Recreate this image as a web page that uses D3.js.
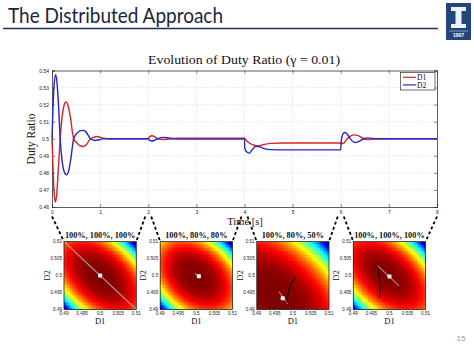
<!DOCTYPE html>
<html>
<head>
<meta charset="utf-8">
<script src="https://cdn.jsdelivr.net/npm/d3@7"></script>
<style>
html,body{margin:0;padding:0;background:#fff;}
svg{display:block;}
</style>
</head>
<body>
<svg id="c" width="474" height="355"></svg>
<script>
// ---------------- DATA ----------------
const slideTitle = "The Distributed Approach";
const chartTitle = "Evolution of Duty Ratio (\u03B3 = 0.01)";
const xTicks = [0,1,2,3,4,5,6,7,8];
const yTicks = [0.46,0.47,0.48,0.49,0.5,0.51,0.52,0.53,0.54];
const yTickLabels = ["0.46","0.47","0.48","0.49","0.5","0.51","0.52","0.53","0.54"];
const seriesNames = ["D1","D2"];

const d1Time = [0,0.02,0.045,0.07,0.1,0.135,0.17,0.21,0.25,0.29,0.33,0.38,0.45,0.52,0.58,0.64,0.7,0.8,0.87,0.94,1.02,1.1,1.2,
  2.0,2.03,2.08,2.13,2.2,2.3,2.42,2.6,4.0,4.03,4.1,4.2,4.28,4.4,4.55,4.8,
  6.0,6.05,6.12,6.2,6.28,6.36,6.45,6.55,6.65,6.75,8.0];
const d1Value = [0.5,0.484,0.468,0.4629,0.468,0.484,0.5,0.513,0.5195,0.5215,0.5198,0.513,0.5,0.4975,0.4959,0.4955,0.4961,0.5,0.5009,0.5013,0.5008,0.5002,0.5,
  0.5,0.5012,0.5018,0.5012,0.5,0.4996,0.4998,0.5003,0.5003,0.4993,0.4975,0.4962,0.4958,0.4966,0.4973,0.4975,
  0.4975,0.4972,0.4995,0.5015,0.5023,0.5018,0.5005,0.4995,0.4998,0.5,0.5];

const d2Time = [0,0.02,0.045,0.075,0.1,0.135,0.17,0.21,0.25,0.3,0.34,0.39,0.45,0.52,0.58,0.64,0.7,0.8,0.85,0.9,0.97,1.05,1.2,
  2.0,2.03,2.08,2.13,2.2,2.3,2.4,2.55,2.7,4.0,4.005,4.05,4.1,4.16,4.24,4.32,4.42,4.55,4.8,
  6.0,6.01,6.05,6.09,6.14,6.22,6.3,6.38,6.48,6.56,6.65,6.75,8.0];
const d2Value = [0.5,0.518,0.532,0.5375,0.534,0.52,0.5,0.487,0.481,0.4789,0.4805,0.488,0.5,0.5032,0.5046,0.5049,0.5042,0.5,0.4993,0.499,0.4993,0.4999,0.5,
  0.5,0.499,0.4987,0.4991,0.5,0.5008,0.5006,0.4999,0.4998,0.4998,0.4945,0.4922,0.4916,0.4935,0.4956,0.4952,0.4941,0.4936,0.4935,
  0.4935,0.4985,0.503,0.5037,0.5025,0.4992,0.4978,0.4985,0.5,0.5005,0.5002,0.5,0.5];

// cost-surface panels
const panelTitles = ["100%, 100%, 100%","100%, 80%, 80%","100%, 80%, 50%","100%, 100%, 100%"];
const panelCenterD1 = [0.5,0.5,0.495,0.4993];
const panelCenterD2 = [0.5,0.5,0.4945,0.5005];
const panelAspect = [0.33,0.45,0.33,0.3];
const panelPower = [1.4,1.4,1.5,1.3];
const panelTicks = [0.49,0.495,0.5,0.505,0.51];
const panelTickLabels = ["0.49","0.495","0.5","0.505","0.51"];
const panelDotD1 = [0.5,0.5007,0.4972,0.5];
const panelDotD2 = [0.5,0.4998,0.4933,0.4997];
const greyLineD1 = [[0.49,0.51],[0.4996,0.5007],[0.4961,0.4986],[0.4967,0.5026]];
const greyLineD2 = [[0.51,0.49],[0.5006,0.4998],[0.4953,0.4917],[0.5029,0.497]];
const trajD1 = [[],[],[0.5007,0.4991,0.4986,0.4984],[0.4972,0.4974,0.4972,0.4969,0.4967]];
const trajD2 = [[],[],[0.4995,0.4965,0.4946,0.492],[0.4933,0.4965,0.499,0.5009,0.5027]];

// ---------------- DRAW ----------------
const svg = d3.select("#c");
svg.append("rect").attr("width",474).attr("height",355).attr("fill","#fff");
const serif = "'Liberation Serif','Times New Roman',serif";
const sans = "'Liberation Sans',Arial,sans-serif";

// slide title & rule
svg.append("text").attr("x",8).attr("y",22.5).text(slideTitle)
  .attr("font-family","Lato,'Open Sans',sans-serif").attr("font-size",20.5)
  .attr("fill","#1b2540").attr("textLength",215).attr("lengthAdjust","spacingAndGlyphs");
svg.append("line").attr("x1",3).attr("x2",438).attr("y1",28.5).attr("y2",28.5)
  .attr("stroke","#1d2f66").attr("stroke-width",1.6);

// logo
const logo = svg.append("g");
logo.append("rect").attr("x",446).attr("y",3).attr("width",25).attr("height",37).attr("fill","#23457a");
logo.append("path").attr("d","M451,7 H466 V11 H461.5 V24 H466 V28 H451 V24 H455.5 V11 H451 Z").attr("fill","#eef2f8");
logo.append("line").attr("x1",449).attr("x2",468).attr("y1",31).attr("y2",31).attr("stroke","#c9d4e6").attr("stroke-width",0.6);
logo.append("text").attr("x",458.5).attr("y",37.3).attr("text-anchor","middle").text("1867")
  .attr("font-family",sans).attr("font-size",5).attr("font-weight","bold").attr("fill","#fff");

// page number
svg.append("text").attr("x",461).attr("y",341).attr("text-anchor","middle").text("15")
  .attr("font-family",sans).attr("font-size",8).attr("fill","#9a9a9a");

// main chart
const x = d3.scaleLinear().domain([0,8]).range([52,437]);
const y = d3.scaleLinear().domain([0.46,0.54]).range([207,70.5]);
const g = svg.append("g");

// grid
g.selectAll(".gx").data(xTicks.slice(1,-1)).enter().append("line")
  .attr("x1",d=>x(d)).attr("x2",d=>x(d)).attr("y1",y(0.46)).attr("y2",y(0.54))
  .attr("stroke","#c8c8c8").attr("stroke-width",0.6).attr("stroke-dasharray","1,1.5");
g.selectAll(".gy").data(yTicks.slice(1,-1)).enter().append("line")
  .attr("x1",x(0)).attr("x2",x(8)).attr("y1",d=>y(d)).attr("y2",d=>y(d))
  .attr("stroke","#c8c8c8").attr("stroke-width",0.6).attr("stroke-dasharray","1,1.5");

// axes (MATLAB style, ticks inside)
const axB = d3.axisBottom(x).tickValues(xTicks).tickSize(-3).tickPadding(3).tickFormat(d3.format("d"));
const axL = d3.axisLeft(y).tickValues(yTicks).tickSize(-3).tickPadding(3).tickFormat((d,i)=>yTickLabels[i]);
const axT = d3.axisTop(x).tickValues(xTicks).tickSize(-3).tickFormat("");
const axR = d3.axisRight(y).tickValues(yTicks).tickSize(-3).tickFormat("");
[[axB,`translate(0,${y(0.46)})`],[axL,`translate(${x(0)},0)`],[axT,`translate(0,${y(0.54)})`],[axR,`translate(${x(8)},0)`]]
.forEach(([ax,tr])=>{
  const a = g.append("g").attr("transform",tr).call(ax);
  a.select(".domain").attr("stroke","#333").attr("stroke-width",0.8);
  a.selectAll(".tick line").attr("stroke","#333").attr("stroke-width",0.6);
  a.selectAll("text").attr("font-family",sans).attr("font-size",5).attr("fill","#222");
});

// lines
const lineGen = d3.line().x(d=>x(d[0])).y(d=>y(d[1])).curve(d3.curveMonotoneX);
const d1Pts = d1Time.map((t,i)=>[t,d1Value[i]]);
const d2Pts = d2Time.map((t,i)=>[t,d2Value[i]]);
g.append("path").attr("d",lineGen(d1Pts)).attr("fill","none").attr("stroke","#d62424").attr("stroke-width",1.4);
g.append("path").attr("d",lineGen(d2Pts)).attr("fill","none").attr("stroke","#2626c8").attr("stroke-width",1.4);

// title & labels
svg.append("text").attr("x",244).attr("y",64).attr("text-anchor","middle").text(chartTitle)
  .attr("font-family",serif).attr("font-size",13).attr("fill","#111")
  .attr("textLength",192).attr("lengthAdjust","spacingAndGlyphs");
svg.append("text").attr("transform","translate(35,139) rotate(-90)").attr("text-anchor","middle").text("Duty Ratio")
  .attr("font-family",serif).attr("font-size",11.5).attr("fill","#111");

// legend
const lg = svg.append("g");
lg.append("rect").attr("x",400.5).attr("y",72.5).attr("width",34.5).attr("height",17.5).attr("fill","#fff").attr("stroke","#333").attr("stroke-width",0.7);
const legColors = ["#d62424","#2626c8"];
seriesNames.forEach((n,i)=>{
  const yy = 77.3 + i*7.6;
  lg.append("line").attr("x1",403).attr("x2",416).attr("y1",yy).attr("y2",yy).attr("stroke",legColors[i]).attr("stroke-width",1.2);
  lg.append("text").attr("x",417).attr("y",yy+2.6).text(n).attr("font-family",serif).attr("font-size",7.6).attr("fill","#111");
});

// dashed connectors
const panelLeft = [64,160.2,256.7,353.3];
const panelW = 72.3, panelTop = 241.5, panelH = 68;
const connectors = [[0,0,"l"],[2,0,"r"],[2,1,"l"],[4,1,"r"],[4,2,"l"],[6,2,"r"],[6,3,"l"],[8,3,"r"]];
connectors.forEach(([t,p,side])=>{
  const off = side==="l" ? 2 : -2;
  const x0 = x(t) + (t===0||t===8 ? 0 : off*1.5);
  const x1 = side==="l" ? panelLeft[p] : panelLeft[p]+panelW;
  svg.append("line").attr("x1",x0).attr("y1",216.5).attr("x2",x1).attr("y2",panelTop)
    .attr("stroke","#000").attr("stroke-width",1.8).attr("stroke-dasharray","3,2.5");
});

// Time label (drawn over connectors)
svg.append("text").attr("x",245).attr("y",224.5).attr("text-anchor","middle").text("Time [s]")
  .attr("font-family",serif).attr("font-size",10.5).attr("fill","#111");

// jet colormap
const jet = d3.scaleLinear().domain([0,0.125,0.375,0.625,0.875,1])
  .range(["#000090","#0000ff","#00ffff","#ffff00","#ff0000","#800000"]).clamp(true);

const N = 48;
const cellEdges = d3.range(N+1).map(i=>0.49 + 0.02*i/N);
panelTitles.forEach((title,p)=>{
  const px = d3.scaleLinear().domain([0.49,0.51]).range([panelLeft[p],panelLeft[p]+panelW]);
  const py = d3.scaleLinear().domain([0.49,0.51]).range([panelTop+panelH,panelTop]);
  const c1 = panelCenterD1[p], c2 = panelCenterD2[p], k = panelAspect[p], pw = panelPower[p];
  const cells = [];
  for(let i=0;i<N;i++) for(let j=0;j<N;j++){
    const a = (cellEdges[i]+cellEdges[i+1])/2, b = (cellEdges[j]+cellEdges[j+1])/2;
    const dx=(a-c1)/0.01, dy=(b-c2)/0.01;
    const u=(dx+dy)/Math.SQRT2, v=(dx-dy)/Math.SQRT2;
    cells.push({i,j,q:u*u+k*v*v});
  }
  const qmax = d3.max(cells,d=>d.q);
  const pg = svg.append("g");
  pg.append("g").attr("shape-rendering","crispEdges").selectAll("rect").data(cells).enter().append("rect")
    .attr("x",d=>px(cellEdges[d.i])).attr("y",d=>py(cellEdges[d.j+1]))
    .attr("width",d=>px(cellEdges[d.i+1])-px(cellEdges[d.i])+1)
    .attr("height",d=>py(cellEdges[d.j])-py(cellEdges[d.j+1])+1)
    .attr("fill",d=>jet(1-Math.pow(d.q/qmax,pw)));
  // grey line
  const gl = greyLineD1[p].map((v,i)=>[v,greyLineD2[p][i]]);
  pg.append("path").attr("d",d3.line().x(d=>px(d[0])).y(d=>py(d[1]))(gl))
    .attr("fill","none").attr("stroke","#b8a89a").attr("stroke-opacity",0.85).attr("stroke-width",1.1);
  // trajectory
  if(trajD1[p].length){
    const tp = trajD1[p].map((v,i)=>[v,trajD2[p][i]]);
    pg.append("path").attr("d",d3.line().x(d=>px(d[0])).y(d=>py(d[1])).curve(d3.curveCatmullRom)(tp))
      .attr("fill","none").attr("stroke","#1a0a0a").attr("stroke-width",1.3);
  }
  // dot
  pg.append("rect").attr("x",px(panelDotD1[p])-2).attr("y",py(panelDotD2[p])-2).attr("width",4).attr("height",4).attr("fill","#fff").attr("rx",0.8);
  // border (also clips overflow of last cells)
  pg.append("rect").attr("x",panelLeft[p]+panelW).attr("y",panelTop).attr("width",2).attr("height",panelH+2).attr("fill","#fff");
  pg.append("rect").attr("x",panelLeft[p]).attr("y",panelTop+panelH).attr("width",panelW+2).attr("height",2).attr("fill","#fff");
  pg.append("rect").attr("x",panelLeft[p]).attr("y",panelTop).attr("width",panelW).attr("height",panelH)
    .attr("fill","none").attr("stroke","#222").attr("stroke-width",0.8);
  // ticks labels
  pg.selectAll(".ty").data(panelTicks).enter().append("text")
    .attr("x",panelLeft[p]-2).attr("y",d=>py(d)+1.6).attr("text-anchor","end")
    .text((d,i)=>panelTickLabels[i]).attr("font-family",sans).attr("font-size",4.6).attr("fill","#222");
  pg.selectAll(".tx").data(panelTicks).enter().append("text")
    .attr("x",d=>px(d)).attr("y",panelTop+panelH+5.5).attr("text-anchor","middle")
    .text((d,i)=>panelTickLabels[i]).attr("font-family",sans).attr("font-size",4.6).attr("fill","#222");
  pg.append("text").attr("x",panelLeft[p]+panelW/2).attr("y",panelTop+panelH+14.5).attr("text-anchor","middle")
    .text("D1").attr("font-family",serif).attr("font-size",8.5).attr("fill","#111");
  pg.append("text").attr("transform",`translate(${panelLeft[p]-14},${panelTop+panelH/2}) rotate(-90)`).attr("text-anchor","middle")
    .text("D2").attr("font-family",serif).attr("font-size",8.5).attr("fill","#111");
  pg.append("text").attr("x",panelLeft[p]+panelW/2).attr("y",panelTop-3.5).attr("text-anchor","middle")
    .text(title).attr("font-family",serif).attr("font-weight","bold").attr("font-size",8.3).attr("fill","#111");
});
</script>
</body>
</html>
